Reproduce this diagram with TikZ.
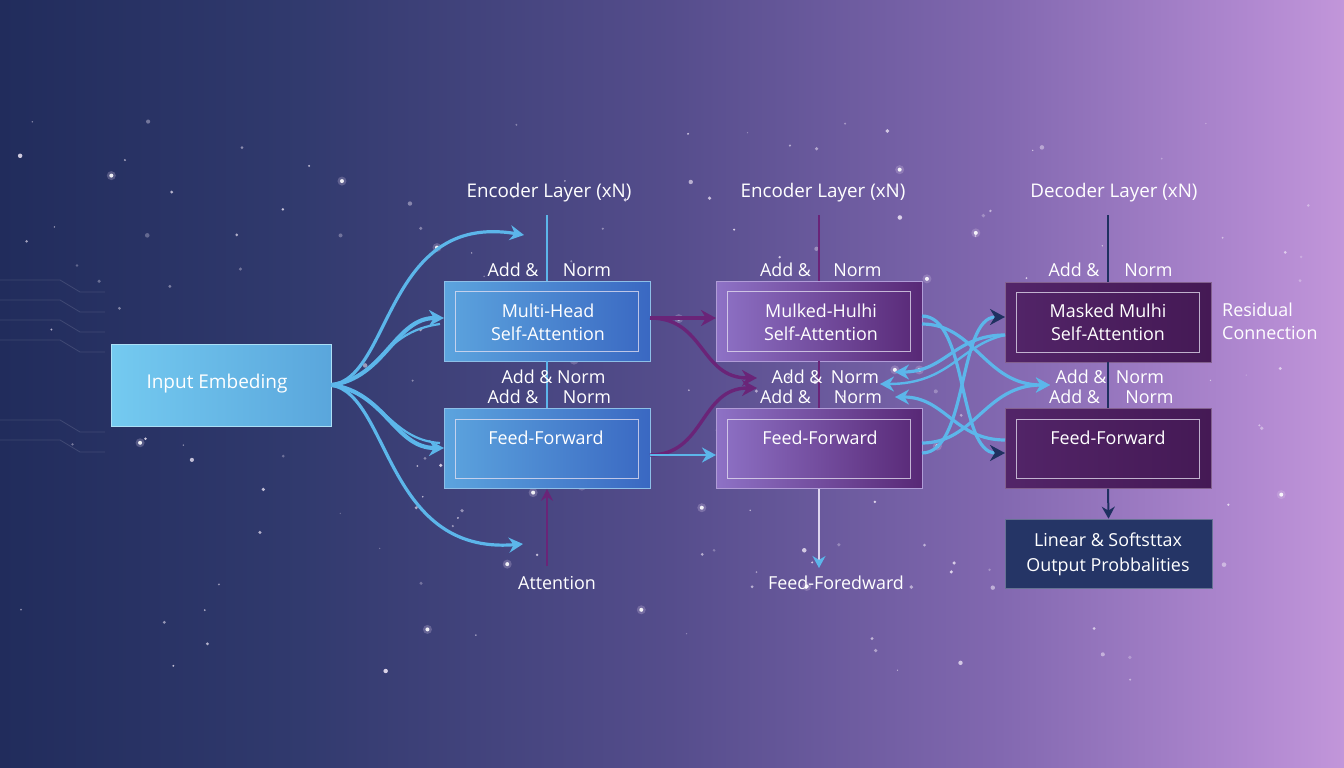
\documentclass[tikz,border=0pt]{standalone}
\usepackage{fontspec}
\setmainfont{Open Sans}
\usetikzlibrary{arrows.meta,calc}
\definecolor{bg0}{HTML}{212C5C}
\definecolor{bg1}{HTML}{313A6E}
\definecolor{bg2}{HTML}{554D8C}
\definecolor{bg3}{HTML}{8268B0}
\definecolor{bg4}{HTML}{B088D0}
\definecolor{bg5}{HTML}{C296DA}
\definecolor{lblue}{HTML}{5CB6EA}
\definecolor{dpurp}{HTML}{6A2478}
\definecolor{navy}{HTML}{1F3060}
\definecolor{ieL}{HTML}{74CAF0}
\definecolor{ieR}{HTML}{5AA6DC}
\definecolor{eaL}{HTML}{5CA4DE}
\definecolor{eaR}{HTML}{3A68C2}
\definecolor{ebL}{HTML}{8E72C6}
\definecolor{ebR}{HTML}{582876}
\definecolor{dcF}{HTML}{4C1C5E}
\definecolor{linF}{HTML}{253566}
\tikzset{
  txt/.style={text=white, font=\fontsize{17.9}{23}\selectfont, inner sep=0pt},
  ttl/.style={text=white, font=\fontsize{18.8}{23}\selectfont, inner sep=0pt},
  boxA/.style={draw=eaL!70!white, line width=0.6pt, left color=eaL, right color=eaR, minimum width=206pt, minimum height=80pt, inner sep=0pt},
  boxB/.style={draw=ebL!70!white, line width=0.6pt, left color=ebL, right color=ebR, minimum width=206pt, minimum height=80pt, inner sep=0pt},
  boxC/.style={draw=dcF!70!white, line width=0.6pt, left color=dcF!90!ebL, right color=dcF!90!black, minimum width=206pt, minimum height=80pt, inner sep=0pt},
  inner/.style={draw=white!80!ebL, draw opacity=0.75, line width=0.9pt},
  flow/.style={draw=lblue, line width=4.2pt, -{Stealth[length=15pt,width=16pt]}},
  flowmid/.style={draw=lblue, line width=3.2pt, -{Stealth[length=14pt,width=15pt]}},
  flowthin/.style={draw=lblue, line width=2.2pt},
  pflow/.style={draw=dpurp, line width=3.4pt, -{Stealth[length=15pt,width=16pt]}},
  xflow/.style={draw=lblue, line width=3.2pt, -{Stealth[length=14pt,width=15pt]}},
  nflow/.style={draw=lblue, line width=3.2pt, -{Stealth[length=15pt,width=16pt,color=navy]}},
}
\begin{document}
\begin{tikzpicture}[x=1pt,y=-1pt]
\useasboundingbox (0,0) rectangle (1344,768);
\shade[left color=bg0, right color=bg1] (0,0) rectangle (300.5,768);
\shade[left color=bg1, right color=bg2] (300,0) rectangle (670.5,768);
\shade[left color=bg2, right color=bg3] (670,0) rectangle (1000.5,768);
\shade[left color=bg3, right color=bg4] (1000,0) rectangle (1250.5,768);
\shade[left color=bg4, right color=bg5] (1250,0) rectangle (1344,768);
% faint circuit traces
\foreach \yy in {280,300,320,340,420,440}{
  \draw[white, opacity=0.12, line width=0.8pt] (0,\yy) -- (60,\yy) -- (80,\yy+12) -- (105,\yy+12);
}
% stars
\pgfmathsetseed{11}
\foreach \i in {1,...,150}{
  \pgfmathsetmacro{\sx}{rnd*1300+20}
  \pgfmathsetmacro{\sy}{120+rnd*560}
  \pgfmathsetmacro{\so}{0.3+0.6*rnd}
  \pgfmathsetmacro{\sr}{0.7+1.6*rnd}
  \fill[white!80!bg4, opacity=\so] (\sx,\sy) circle (\sr pt);
}
\pgfmathsetseed{5}
\foreach \i in {1,...,22}{
  \pgfmathsetmacro{\sx}{rnd*1250+40}
  \pgfmathsetmacro{\sy}{150+rnd*500}
  \fill[white!60!bg4, opacity=0.25] (\sx,\sy) circle (4.5pt);
  \fill[white, opacity=0.9] (\sx,\sy) circle (2pt);
}
% boxes
\node[draw=ieL!60!white, line width=0.6pt, left color=ieL, right color=ieR, minimum width=220pt, minimum height=82pt] (ie) at (221,385) {};
\node[txt, font=\fontsize{19}{23}\selectfont] (iet) at (217,384) {Input Embeding};

\node[boxA] (e1a) at (547,321) {};
\node[boxA] (e1f) at (547,448.5) {};
\node[boxB] (e2a) at (819,321) {};
\node[boxB] (e2f) at (819,448.5) {};
\node[boxC] (da) at (1108,322) {};
\node[boxC] (df) at (1108,448.5) {};
\node[draw=linF!70!white, line width=0.6pt, fill=linF, minimum width=207pt, minimum height=69pt] (lin) at (1108.5,553.5) {};

\foreach \b in {e1a,e1f,e2a,e2f,da,df}{
  \draw[inner] ($(\b.north west)+(12,11)$) rectangle ($(\b.south east)+(-12,-10)$);
}

% box texts
\node[txt, align=center] (e1at) at (548,322) {Multi-Head\\Self-Attention};
\node[txt] (e1ft) at (546,438) {Feed-Forward};
\node[txt, align=center] (e2at) at (821,322) {Mulked-Hulhi\\Self-Attention};
\node[txt] (e2ft) at (820,438) {Feed-Forward};
\node[txt, align=center] (dat) at (1108,322) {Masked Mulhi\\Self-Attention};
\node[txt] (dft) at (1108,438) {Feed-Forward};
\node[txt, align=center, font=\fontsize{17.9}{25}\selectfont] (lint) at (1108,554) {Linear \& Softsttax\\Output Probbalities};

% titles
\node[ttl] (t1) at (549,193) {Encoder Layer (xN)};
\node[ttl] (t2) at (823,193) {Encoder Layer (xN)};
\node[ttl] (t3) at (1114,193) {Decoder Layer (xN)};

% vertical lines
\coordinate (v1) at (547,215);
\coordinate (v2) at (819,215);
\coordinate (v3) at (1108,215);
\draw[lblue, line width=1.3pt] (v1) -- (e1a.north);
\draw[lblue, line width=1.3pt] (e1a.south) -- (e1f.north);
\draw[dpurp, line width=1.5pt] (v2) -- (e2a.north);
\draw[dpurp, line width=1.5pt] (e2a.south) -- (e2f.north);
\draw[navy, line width=1.5pt] (v3) -- (da.north);
\draw[navy, line width=1.5pt] (da.south) -- (df.north);

% Add & Norm labels
\foreach \l/\r in {513/587, 785.5/857.5, 1074/1148.5}{
  \node[txt] at (\l,270) {Add \&};
  \node[txt] at (\r,270) {Norm};
}
\node[txt] at (553.5,377) {Add \& Norm};
\node[txt] at (513,397) {Add \&};
\node[txt] at (587,397) {Norm};
\node[txt] at (797,377) {Add \&};
\node[txt] at (855,377) {Norm};
\node[txt] at (785.5,397) {Add \&};
\node[txt] at (858,397) {Norm};
\node[txt] at (1081,377) {Add \&};
\node[txt] at (1140,377) {Norm};
\node[txt] at (1074.5,397) {Add \&};
\node[txt] at (1149.5,397) {Norm};

\node[txt, align=left, anchor=west] (res) at (1222,321) {Residual\\Connection};

% bottom labels
\node[txt] (att) at (557,583) {Attention};
\node[txt] (ffd) at (836,583) {Feed-Foredward};

% input fan
\coordinate (topend) at (524,235);
\coordinate (botend) at (523,544);
\coordinate (mhain) at (444,318);
\coordinate (ffin) at (444,448);
\draw[flowmid] (ie.east) .. controls (392,378) and (385,212) .. (topend);
\draw[flow] (ie.east) .. controls (385,378) and (395,318) .. (mhain);
\draw[flowthin] (ie.east) .. controls (380,380) and (380,332) .. (440,324);
\draw[flow] (ie.east) .. controls (385,392) and (395,448) .. (ffin);
\draw[flowthin] (ie.east) .. controls (380,390) and (390,440) .. (440,443);
\draw[flowmid] (ie.east) .. controls (390,395) and (385,555) .. (botend);

% encoder 1 -> encoder 2
\coordinate (e1o1) at (650,318);
\coordinate (e1o2) at (650,455);
\coordinate (an1) at (757,378);
\coordinate (an2) at (757,388);
\coordinate (e2i1) at (716,318);
\coordinate (e2i2) at (716,455);
\draw[pflow] (e1o1) -- (e2i1);
\draw[pflow] (e1o1) .. controls (705,318) and (700,378) .. (an1);
\draw[pflow] (e1o2) .. controls (705,455) and (700,388) .. (an2);
\draw[xflow, line width=2.2pt] (e1o2) -- (e2i2);

% encoder 2 -> decoder
\coordinate (e2o1) at (922,316);
\coordinate (e2o2) at (922,324);
\coordinate (e2o3) at (922,443);
\coordinate (e2o4) at (922,453);
\coordinate (di1) at (1005,317);
\coordinate (di2) at (1005,453);
\coordinate (do1) at (1005,335);
\coordinate (do2) at (1005,440);
\coordinate (dan) at (1050,385);
\coordinate (l1) at (895,372);
\coordinate (l2) at (880,384);
\coordinate (l3) at (895,397);
\draw[nflow] (e2o1) .. controls (968,316) and (958,453) .. (di2);
\draw[nflow] (e2o4) .. controls (968,453) and (958,317) .. (di1);
\draw[xflow] (e2o2) .. controls (975,324) and (985,385) .. (dan);
\draw[xflow] (e2o3) .. controls (975,443) and (985,385) .. (dan);
\draw[xflow] (do1) .. controls (955,335) and (945,372) .. (l1);
\draw[xflow] (do2) .. controls (955,440) and (945,397) .. (l3);
\draw[xflow, line width=2.4pt] (do1) .. controls (960,345) and (950,384) .. (l2);

% bottom connectors
\coordinate (attstart) at (547,566);
\coordinate (ffdend) at (819,568);
\draw[dpurp, line width=2pt, -{Stealth[length=12pt,width=12pt]}] (attstart) -- (e1f.south);
\draw[white!70!ebL, line width=1.6pt, -{Stealth[length=12pt,width=13pt,color=lblue]}] (e2f.south) -- (ffdend);
\draw[navy, line width=2pt, -{Stealth[length=12pt,width=13pt]}] (df.south) -- (lin.north);
\end{tikzpicture}
\end{document}
